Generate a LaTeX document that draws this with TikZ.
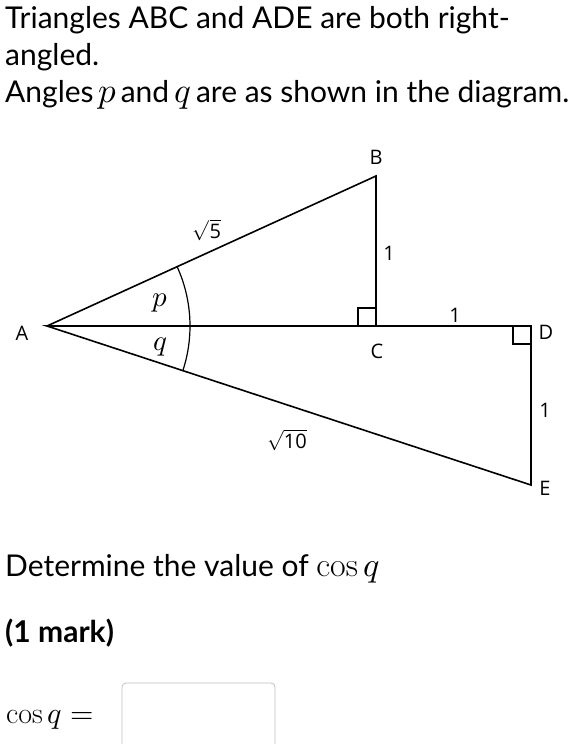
\documentclass[tikz,border=0pt]{standalone}
\usepackage{unicode-math}
\usetikzlibrary{calc}
\setmainfont{Lato}
\setmathfont{Latin Modern Math}
\setmathrm{Latin Modern Roman}
\newfontfamily\lblfont{Open Sans}
\newcommand{\txtmath}[1]{{\fontsize{35}{40}\selectfont$#1$}}
\tikzset{
  edge/.style={line width=1.6pt, line join=miter},
  thin edge/.style={line width=1.2pt},
  ptlabel/.style={font=\lblfont\fontsize{20}{24}\selectfont, inner sep=0pt},
  anglabel/.style={font=\fontsize{29}{34}\selectfont, inner sep=0pt},
  bodytext/.style={font=\fontsize{30}{36}\selectfont, inner sep=0pt, anchor=base west},
}
\begin{document}
\begin{tikzpicture}[x=1pt,y=1pt]
\useasboundingbox (0,0) rectangle (572,-744);
% body text
\node[bodytext] (t1) at (5,-28) {Triangles ABC and ADE are both right-};
\node[bodytext] (t2) at (5,-65) {angled.};
\node[bodytext] (t3) at (5,-102) {Angles\hspace{5pt}\txtmath{p}\hspace{4pt}and\hspace{5pt}\txtmath{q}\hspace{5pt}are as shown in the diagram.};
% points
\coordinate (A) at (47,-326);
\coordinate (B) at (376,-176);
\coordinate (C) at (376,-326);
\coordinate (D) at (531,-326);
\coordinate (E) at (531,-485);
% triangles
\draw[edge] (A) -- (B) -- (C);
\draw[edge] (A) -- (D) -- (E) -- cycle;
% right angle marks
\draw[thin edge] (C) ++(-18,0) -- ++(0,18) -- ++(18,0);
\draw[thin edge] (D) ++(-18,0) -- ++(0,-18) -- ++(18,0);
% angle arc
\draw[thin edge] ($(A)+(24.5:143)$) arc[start angle=24.5, end angle=-18.2, radius=143];
% labels
\node[ptlabel] (lA) at (22,-333) {A};
\node[ptlabel] (lB) at (376,-157) {B};
\node[ptlabel] (lC) at (377,-351) {C};
\node[ptlabel] (lD) at (546,-332) {D};
\node[ptlabel] (lE) at (545,-488) {E};
\node[ptlabel] (lBC) at (389,-253) {1};
\node[ptlabel] (lCD) at (455,-315) {1};
\node[ptlabel] (lDE) at (545,-410) {1};
\node[ptlabel] (lAB) at (207,-230) {$\sqrt{\mbox{\lblfont 5}}$};
\node[ptlabel] (lAE) at (287,-440) {$\sqrt{\mbox{\lblfont 10}}$};
\node[anglabel] (lp) at (160,-303) {$p$};
\node[anglabel] (lq) at (160,-347) {$q$};
% question
\node[bodytext] (t4) at (5,-576) {Determine the value of {\fontsize{34}{40}\selectfont$\cos q$}};
\node[bodytext, font=\fontsize{30}{36}\selectfont\bfseries] (t5) at (5,-642) {(1 mark)};
\node[bodytext, font=\fontsize{30}{36}\selectfont] (t6) at (6,-723) {$\cos q =$};
\draw[line width=0.8pt, draw=black!25, rounded corners=4pt] (122,-745) -- (122,-683) -- (275,-683) -- (275,-745);
\end{tikzpicture}
\end{document}
